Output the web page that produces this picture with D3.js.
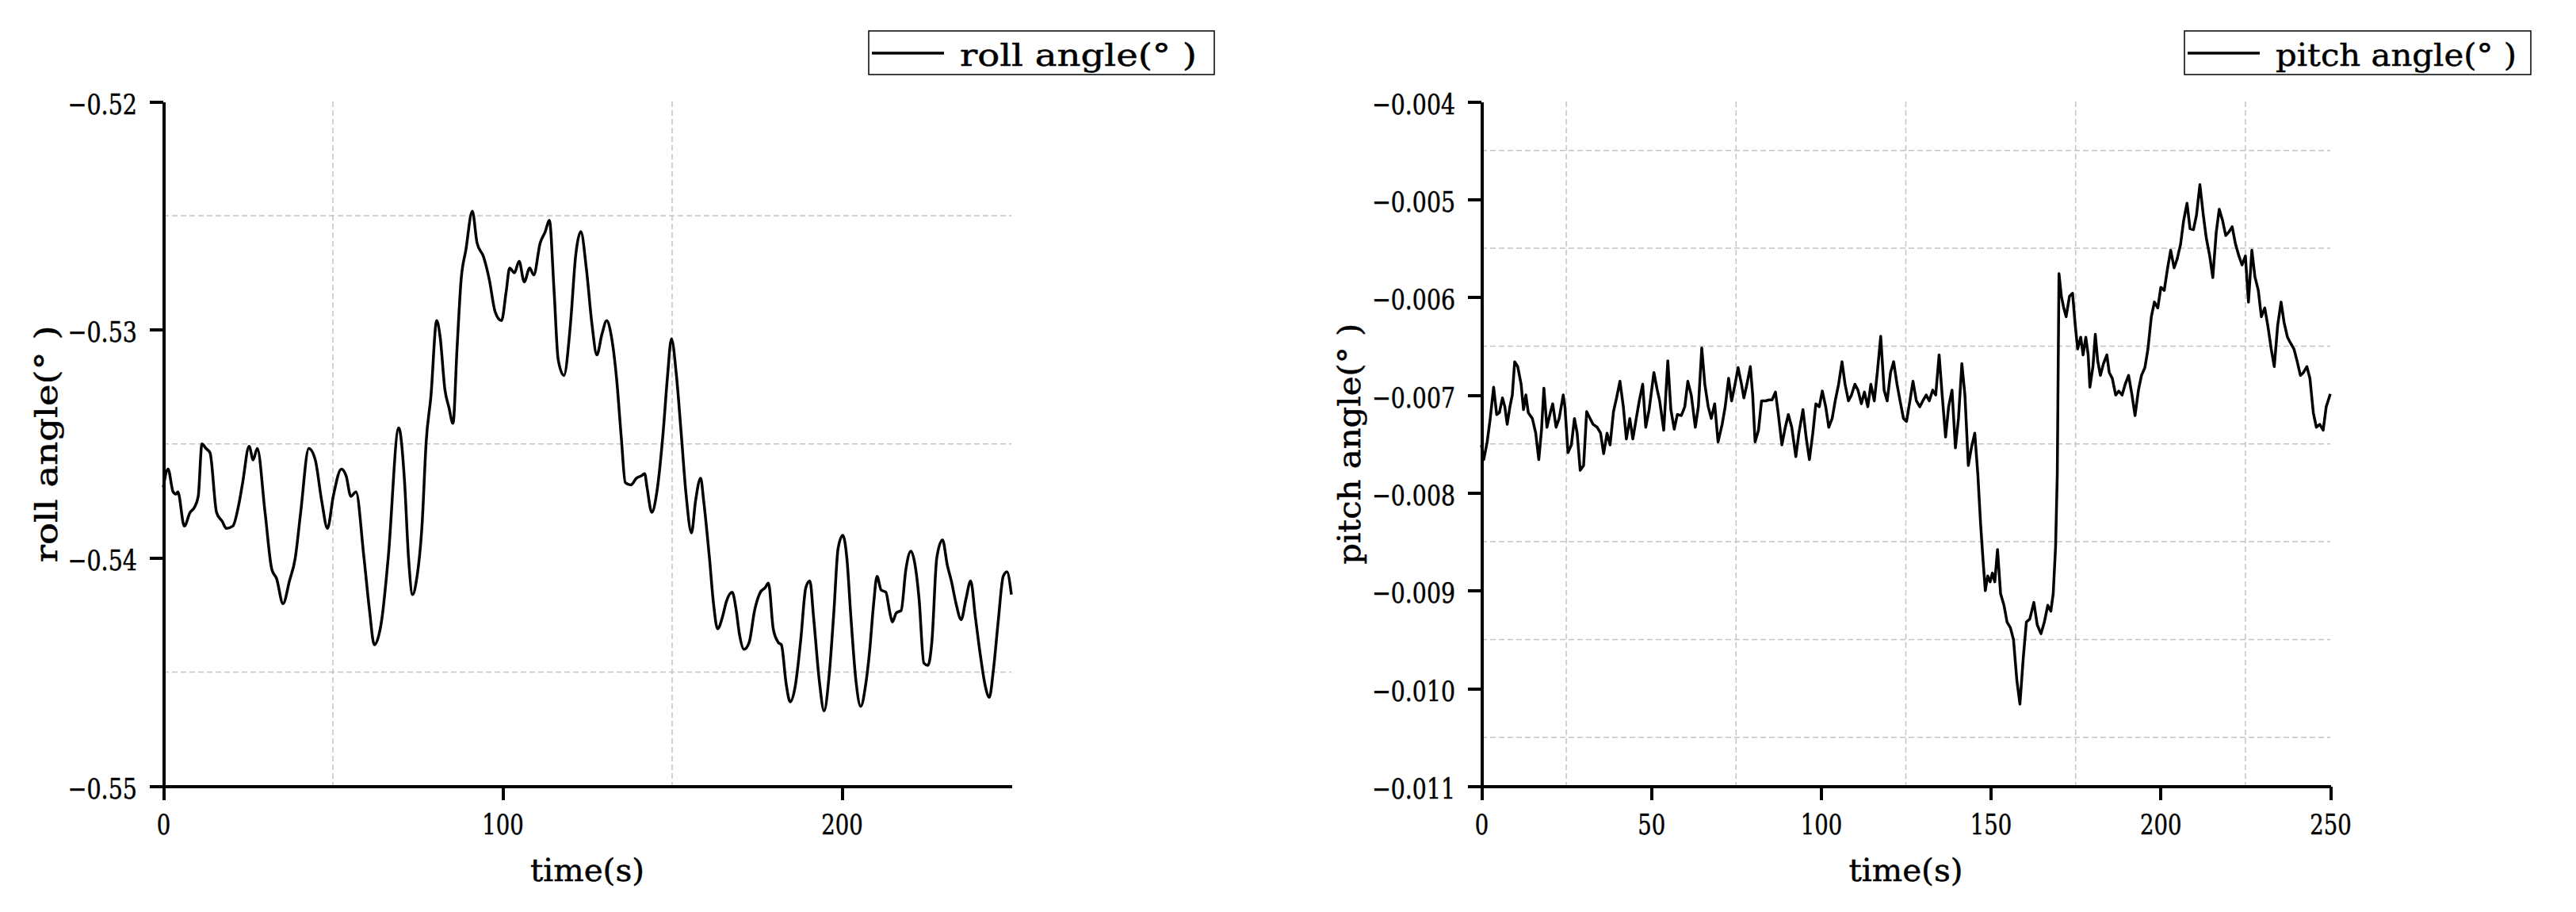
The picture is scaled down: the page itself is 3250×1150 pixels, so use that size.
<!DOCTYPE html>
<html lang="en">
<head>
<meta charset="utf-8">
<title>roll / pitch angle</title>
<script src="https://cdn.jsdelivr.net/npm/d3@7/dist/d3.min.js"></script>
<style>
	body { margin: 0; background: #fff; }
	.axis path,
	.axis line {
		fill: none;
		stroke: #000;
		stroke-width: 4px;
		shape-rendering: crispEdges;
	}
	.axis text {
		font-family: "DejaVu Serif", serif;
		font-size: 36px;
		fill: #000;
		stroke: #000;
		stroke-width: 0.5px;
	}
	.grid line {
		stroke: #c4c4c4;
		stroke-width: 1.5px;
		stroke-dasharray: 7,4;
	}
	.label {
		font-family: "DejaVu Serif", serif;
		font-size: 40px;
		fill: #000;
		stroke: #000;
		stroke-width: 0.5px;
	}
</style>
</head>
<body>
<script>

// ---- data ----
var rollTime = [0,1.4,2.9,3.8,4.3,6.2,7.9,9.1,10.3,11.4,
	12.6,13.8,15.7,17.4,18.6,20.5,22.2,23.4,25.3,26.5,
	27.7,30,32,33.4,35.3,37.2,38.9,40.5,42.9,44.8,
	46.7,48.4,50.1,52.5,53.9,55.3,56.8,59.1,60.8,62.2,
	64.4,66.3,69.4,71.1,72.3,73.5,74.6,76.3,77.5,78.9,
	80.6,81.6,83,84.2,85.4,86.6,87.8,89.2,91.1,92.5,
	94.4,96.1,97.8,99.7,101.1,102.1,103.5,104.9,106.4,108,
	109.2,111.1,112.6,113.8,115.2,116.4,118.1,120,121.6,123.1,
	124.7,126.4,127.8,129.3,130.7,132.1,133.6,135,136.2,137.8,
	139.5,140.9,141.9,142.6,144,145.5,147.4,148.6,149.8,151.2,
	152.6,154.1,155.7,156.9,158.4,159.3,161,162.2,163.4,164.8,
	166,167.7,168.9,169.8,171.2,172.7,174.3,176,177.4,178.4,
	179.8,181.3,182.2,183.6,184.8,186.3,187.9,189.4,190.6,191.7,
	193.4,194.8,196.3,197.7,198.9,200.3,201.5,202.7,204.2,205.6,
	207,208.2,209.4,210.4,211.6,213,214.2,214.9,216.1,217.5,
	218.9,220.4,221.6,222.8,224.2,225.4,226.6,228,229.7,231.1,
	232.3,233.7,235.2,236.6,238,239.4,240.9,242.3,243.5,244.7,
	246.1,247.6,248.7,250];

var rollAngle = [-0.5369,-0.5361,-0.5371,-0.5372,-0.5371,-0.5386,-0.5380,-0.5378,-0.5373,-0.5350,
	-0.5352,-0.5354,-0.5380,-0.5384,-0.5387,-0.5386,-0.5377,-0.5367,-0.5351,-0.5357,
	-0.5352,-0.5380,-0.5405,-0.5409,-0.5420,-0.5410,-0.5400,-0.5380,-0.5352,-0.5357,
	-0.5375,-0.5387,-0.5373,-0.5361,-0.5364,-0.5373,-0.5371,-0.5399,-0.5423,-0.5438,
	-0.5427,-0.5400,-0.5343,-0.5366,-0.5400,-0.5416,-0.5410,-0.5385,-0.5349,-0.5329,
	-0.5296,-0.5303,-0.5326,-0.5334,-0.5341,-0.5308,-0.5278,-0.5265,-0.5248,-0.5262,
	-0.5268,-0.5278,-0.5292,-0.5296,-0.5283,-0.5273,-0.5275,-0.5270,-0.5279,-0.5273,
	-0.5276,-0.5262,-0.5257,-0.5252,-0.5283,-0.5313,-0.5320,-0.5298,-0.5267,-0.5257,
	-0.5273,-0.5298,-0.5311,-0.5302,-0.5296,-0.5303,-0.5321,-0.5347,-0.5367,-0.5368,
	-0.5365,-0.5364,-0.5363,-0.5369,-0.5380,-0.5371,-0.5344,-0.5321,-0.5304,-0.5319,
	-0.5344,-0.5372,-0.5389,-0.5375,-0.5365,-0.5375,-0.5400,-0.5420,-0.5431,-0.5426,
	-0.5419,-0.5415,-0.5423,-0.5433,-0.5440,-0.5437,-0.5423,-0.5415,-0.5413,-0.5411,
	-0.5431,-0.5437,-0.5438,-0.5455,-0.5463,-0.5456,-0.5436,-0.5413,-0.5410,-0.5426,
	-0.5454,-0.5467,-0.5451,-0.5423,-0.5396,-0.5390,-0.5400,-0.5426,-0.5454,-0.5465,
	-0.5456,-0.5441,-0.5420,-0.5408,-0.5414,-0.5415,-0.5424,-0.5428,-0.5424,-0.5423,
	-0.5405,-0.5397,-0.5403,-0.5418,-0.5446,-0.5447,-0.5436,-0.5400,-0.5392,-0.5403,
	-0.5410,-0.5420,-0.5427,-0.5418,-0.5410,-0.5426,-0.5443,-0.5456,-0.5461,-0.5449,
	-0.5428,-0.5408,-0.5406,-0.5416];

var pitchTime = [0,0.7,1.7,2.6,3.6,4.5,5.3,6.2,6.9,7.6,
	8.4,9.1,9.8,10.7,11.7,12.4,13.1,13.8,15.0,16.0,
	16.9,17.7,18.4,19.3,20.3,21.0,22.0,22.9,24.1,24.6,
	25.5,26.5,27.4,28.2,29.1,30.1,31.0,32.0,32.9,34.1,
	35.1,36.0,37.0,37.9,38.9,39.8,40.8,41.8,42.7,43.7,
	44.6,45.6,46.5,47.5,48.4,49.4,50.8,51.8,52.5,53.7,
	54.9,55.8,56.8,57.7,58.9,59.9,60.8,61.8,63.0,63.9,
	64.9,65.8,66.8,67.7,68.7,69.7,70.9,71.8,72.8,73.7,
	74.7,75.6,76.6,77.3,78.2,79.2,79.9,80.6,81.6,82.5,
	83.7,84.7,85.6,86.6,87.5,88.5,89.5,90.4,91.4,92.6,
	93.5,94.7,95.7,96.6,97.6,98.5,99.5,100.4,101.4,102.3,
	103.3,104.2,105.2,106.2,107.1,108.1,109.0,110.0,110.9,111.9,
	112.8,113.8,114.7,115.7,116.6,117.6,118.6,119.5,120.5,121.4,
	122.4,123.3,124.3,125.2,126.2,127.1,128.1,129.1,130.0,131.0,
	131.9,132.9,133.8,134.8,135.7,136.7,137.6,138.6,139.6,140.5,
	141.5,142.4,143.4,144.3,145.3,146.2,147.0,147.7,148.4,149.1,
	149.8,150.5,151.2,152.0,152.9,153.9,154.8,155.8,156.7,157.7,
	158.6,159.6,160.5,161.5,162.7,163.7,164.8,165.8,166.8,167.7,
	168.4,169.1,169.6,170.1,170.8,171.5,172.2,173.2,174.1,174.9,
	175.6,176.5,177.2,178.0,178.7,179.2,180.1,180.8,181.5,182.3,
	183.2,184.2,184.9,185.8,186.8,187.7,188.7,189.6,190.6,191.6,
	192.5,193.5,194.4,195.4,196.3,197.3,198.2,199.2,200.1,201.1,
	202.1,203.0,204.0,204.9,205.9,206.8,207.8,208.7,209.7,210.6,
	211.6,212.6,213.5,214.5,215.4,216.4,217.3,218.3,219.2,220.2,
	221.1,222.1,223.1,224.0,225.0,225.9,226.9,227.8,228.8,229.7,
	230.7,231.6,232.6,233.5,234.5,235.5,236.4,237.4,238.3,239.3,
	240.2,241.2,242.1,243.1,244.0,245.0,245.9,246.9,247.9,248.8,
	250.0];

var pitchAngle = [-0.00751,-0.00766,-0.00748,-0.00724,-0.00692,-0.00720,-0.00718,-0.00703,-0.00712,-0.00730,
	-0.00712,-0.00700,-0.00666,-0.00671,-0.00689,-0.00715,-0.00700,-0.00718,-0.00724,-0.00739,
	-0.00766,-0.00736,-0.00693,-0.00733,-0.00718,-0.00709,-0.00733,-0.00724,-0.00700,-0.00712,
	-0.00759,-0.00751,-0.00724,-0.00739,-0.00777,-0.00772,-0.00717,-0.00724,-0.00730,-0.00733,
	-0.00739,-0.00760,-0.00739,-0.00751,-0.00717,-0.00703,-0.00686,-0.00712,-0.00745,-0.00724,
	-0.00745,-0.00724,-0.00706,-0.00689,-0.00733,-0.00715,-0.00677,-0.00695,-0.00706,-0.00736,
	-0.00665,-0.00715,-0.00735,-0.00720,-0.00721,-0.00712,-0.00686,-0.00700,-0.00733,-0.00712,
	-0.00652,-0.00689,-0.00712,-0.00724,-0.00709,-0.00748,-0.00730,-0.00712,-0.00683,-0.00706,
	-0.00689,-0.00672,-0.00689,-0.00703,-0.00689,-0.00671,-0.00700,-0.00748,-0.00736,-0.00706,
	-0.00706,-0.00705,-0.00705,-0.00697,-0.00721,-0.00751,-0.00733,-0.00720,-0.00733,-0.00763,
	-0.00739,-0.00715,-0.00745,-0.00766,-0.00739,-0.00709,-0.00712,-0.00696,-0.00712,-0.00733,
	-0.00724,-0.00706,-0.00689,-0.00666,-0.00689,-0.00706,-0.00700,-0.00689,-0.00695,-0.00709,
	-0.00697,-0.00712,-0.00689,-0.00706,-0.00677,-0.00640,-0.00695,-0.00706,-0.00677,-0.00666,
	-0.00689,-0.00706,-0.00724,-0.00727,-0.00706,-0.00686,-0.00706,-0.00712,-0.00706,-0.00700,
	-0.00706,-0.00695,-0.00700,-0.00659,-0.00700,-0.00743,-0.00712,-0.00695,-0.00754,-0.00724,
	-0.00668,-0.00700,-0.00772,-0.00754,-0.00739,-0.00781,-0.00831,-0.00867,-0.00900,-0.00885,
	-0.00891,-0.00882,-0.00891,-0.00858,-0.00903,-0.00915,-0.00932,-0.00938,-0.00950,-0.00992,
	-0.01016,-0.00968,-0.00932,-0.00929,-0.00912,-0.00935,-0.00944,-0.00932,-0.00915,-0.00921,
	-0.00903,-0.00855,-0.00781,-0.00576,-0.00599,-0.00611,-0.00620,-0.00599,-0.00596,-0.00629,
	-0.00653,-0.00641,-0.00659,-0.00641,-0.00659,-0.00692,-0.00671,-0.00638,-0.00665,-0.00680,
	-0.00668,-0.00659,-0.00677,-0.00683,-0.00700,-0.00696,-0.00700,-0.00689,-0.00680,-0.00700,
	-0.00721,-0.00695,-0.00680,-0.00672,-0.00653,-0.00620,-0.00605,-0.00611,-0.00590,-0.00593,
	-0.00570,-0.00552,-0.00570,-0.00561,-0.00546,-0.00522,-0.00504,-0.00530,-0.00531,-0.00516,
	-0.00485,-0.00516,-0.00540,-0.00558,-0.00580,-0.00534,-0.00510,-0.00522,-0.00537,-0.00533,
	-0.00528,-0.00546,-0.00558,-0.00567,-0.00558,-0.00605,-0.00552,-0.00579,-0.00593,-0.00620,
	-0.00611,-0.00629,-0.00653,-0.00671,-0.00629,-0.00605,-0.00626,-0.00641,-0.00647,-0.00653,
	-0.00665,-0.00680,-0.00677,-0.00671,-0.00683,-0.00718,-0.00733,-0.00730,-0.00736,-0.00712,
	-0.00699];

// ticks (major ones are labelled, minor ones carry the dashed grid)
var rollXMajor = [0, 100, 200];
var rollXMinor = [50, 150, 250];
var rollYMajor = [-0.52, -0.53, -0.54, -0.55];
var rollYMinor = [-0.525, -0.535, -0.545];
var pitchXMajor = [0, 50, 100, 150, 200, 250];
var pitchXMinor = [25, 75, 125, 175, 225];
var pitchYMajor = [-0.004, -0.005, -0.006, -0.007, -0.008, -0.009, -0.010, -0.011];
var pitchYMinor = [-0.0045, -0.0055, -0.0065, -0.0075, -0.0085, -0.0095, -0.0105];

var timeTitle = "time(s)";
var rollTitle = "roll angle(° )";
var pitchTitle = "pitch angle(° )";

// ---- layout ----
var plotTop = 128;
var plotBottom = 991.5;
var charW = 17.5; // advance of one tick label character

var svg = d3.select("body")
	.append("svg")
	.attr("width", 3250)
	.attr("height", 1150);

var panels = [
	{time: rollTime, angle: rollAngle, x0: 206, x1: 1276, yDomain: [-0.55, -0.52],
	 xMajor: rollXMajor, xMinor: rollXMinor, yMajor: rollYMajor, yMinor: rollYMinor,
	 fmt: d3.format(".2f"), title: rollTitle, titleX: 72, titleW: 299,
	 legendX: 1096, legendW: 436, curve: d3.curveMonotoneX},
	{time: pitchTime, angle: pitchAngle, x0: 1869, x1: 2940, yDomain: [-0.011, -0.004],
	 xMajor: pitchXMajor, xMinor: pitchXMinor, yMajor: pitchYMajor, yMinor: pitchYMinor,
	 fmt: d3.format(".3f"), title: pitchTitle, titleX: 1716, titleW: 304,
	 legendX: 2756, legendW: 437, curve: d3.curveLinear}
];

function squeeze(sel) {
	sel.attr("textLength", function() { return this.textContent.length * charW; })
		.attr("lengthAdjust", "spacingAndGlyphs");
}

panels.forEach(function(p) {
	var xScale = d3.scaleLinear().domain([0, 250]).range([p.x0, p.x1]);
	var yScale = d3.scaleLinear().domain(p.yDomain).range([plotBottom, plotTop]);

	// dashed grid on the minor positions
	var grid = svg.append("g").attr("class", "grid");
	grid.selectAll(".gx")
		.data(p.xMinor.filter(function(d) { return d < 250; }))
		.enter().append("line")
		.attr("x1", function(d) { return xScale(d); })
		.attr("x2", function(d) { return xScale(d); })
		.attr("y1", plotTop)
		.attr("y2", plotBottom);
	grid.selectAll(".gy")
		.data(p.yMinor)
		.enter().append("line")
		.attr("x1", p.x0)
		.attr("x2", p.x1)
		.attr("y1", function(d) { return yScale(d); })
		.attr("y2", function(d) { return yScale(d); });

	// the series
	var line = d3.line()
		.x(function(d) { return xScale(d[0]); })
		.y(function(d) { return yScale(d[1]); })
		.curve(p.curve);

	svg.append("path")
		.datum(d3.zip(p.time, p.angle))
		.attr("d", line)
		.attr("fill", "none")
		.attr("stroke", "#000")
		.attr("stroke-width", 3.5)
		.attr("stroke-linejoin", "round");

	// x axis
	var gx = svg.append("g")
		.attr("class", "axis")
		.attr("transform", "translate(0," + plotBottom + ")");
	gx.call(d3.axisBottom(xScale).tickValues(p.xMinor).tickSize(8).tickSizeOuter(0).tickFormat(""));
	gx.call(d3.axisBottom(xScale).tickValues(p.xMajor).tickSize(17).tickSizeOuter(0)
		.tickPadding(18).tickFormat(d3.format("d")));
	gx.selectAll(".tick text").call(squeeze);

	// y axis
	var gy = svg.append("g")
		.attr("class", "axis")
		.attr("transform", "translate(" + p.x0 + ",0)");
	gy.call(d3.axisLeft(yScale).tickValues(p.yMinor).tickSize(8).tickSizeOuter(0).tickFormat(""));
	gy.call(d3.axisLeft(yScale).tickValues(p.yMajor).tickSize(17).tickSizeOuter(0)
		.tickPadding(16).tickFormat(p.fmt));
	gy.selectAll(".tick text").attr("dy", "0.42em").call(squeeze);

	// axis titles
	svg.append("text")
		.attr("class", "label")
		.attr("x", (p.x0 + p.x1) / 2)
		.attr("y", 1111)
		.attr("text-anchor", "middle")
		.attr("textLength", 144)
		.attr("lengthAdjust", "spacingAndGlyphs")
		.text(timeTitle);

	svg.append("text")
		.attr("class", "label")
		.attr("transform", "translate(" + p.titleX + "," + (plotTop + plotBottom) / 2 + ") rotate(-90)")
		.attr("text-anchor", "middle")
		.attr("textLength", p.titleW)
		.attr("lengthAdjust", "spacingAndGlyphs")
		.text(p.title);

	// legend box
	var lg = svg.append("g").attr("transform", "translate(" + p.legendX + ",39)");
	lg.append("rect")
		.attr("width", p.legendW)
		.attr("height", 55)
		.attr("fill", "none")
		.attr("stroke", "#000")
		.attr("stroke-width", 1.5);
	lg.append("line")
		.attr("x1", 4).attr("x2", 95)
		.attr("y1", 28).attr("y2", 28)
		.attr("stroke", "#000")
		.attr("stroke-width", 3.5);
	lg.append("text")
		.attr("class", "label")
		.attr("x", 115)
		.attr("y", 44)
		.attr("textLength", p.titleW)
		.attr("lengthAdjust", "spacingAndGlyphs")
		.text(p.title);
});

</script>
</body>
</html>
